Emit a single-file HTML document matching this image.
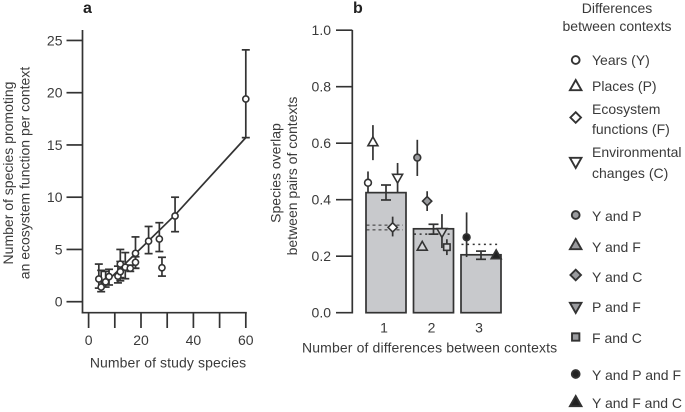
<!DOCTYPE html>
<html lang="en">
<head>
<meta charset="utf-8">
<title>Species overlap chart</title>
<style>
html,body{margin:0;padding:0;background:#fff;width:685px;height:412px;overflow:hidden}
svg{display:block;font-family:"Liberation Sans",sans-serif;fill:#3a3a3a}
text{font-size:14px;stroke:none}
</style>
</head>
<body>
<svg id="chart" width="685" height="412" viewBox="0 0 685 412" xmlns="http://www.w3.org/2000/svg">
  <g id="panel-a"></g>
  <g id="panel-b"></g>
  <g id="legend"></g>
</svg>
<script>
// Panel a data
const studySpecies = [3.9, 4.8, 6.5, 7.8, 11.2, 12.1, 12.1, 14, 15.9, 17.9, 17.9, 22.9, 27, 28, 33, 60];
const speciesPerContext = [2.17, 1.4, 1.9, 2.4, 2.45, 3.6, 2.87, 3.3, 3.2, 3.77, 4.63, 5.8, 6, 3.25, 8.2, 19.4];
const speciesUpper = [3.6, 3.0, 2.9, 3.1, 3.4, 5.0, 3.85, 4.7, 3.5, 4.3, 6.2, 7.2, 7.56, 4.25, 10, 24.1];
const speciesLower = [1.3, 0.96, 1.4, 1.6, 1.8, 2.3, 2.0, 2.2, 2.9, 3.2, 3.2, 4.6, 4.8, 2.45, 6.7, 15.7];
const fitX = [4, 33, 60];
const fitY = [1.2, 8.3, 15.7];
const aXTicks = [0, 10, 20, 30, 40, 50, 60];
const aXLabels = [0, 20, 40, 60];
const aYTicks = [0, 5, 10, 15, 20, 25];

// Panel b data
const barCategories = ['1', '2', '3'];
const barValues = [0.425, 0.297, 0.205];
const barUpper = [0.452, 0.313, 0.218];
const barLower = [0.399, 0.278, 0.189];
const nullExpectationA = [0.31, 0.278, 0.242];
const nullExpectationB = [0.293, null, null];
const bYTicks = [0, 0.2, 0.4, 0.6, 0.8, 1];

const contextNames = ['years', 'places', 'functions', 'changes', 'y-and-p', 'y-and-f', 'y-and-c', 'p-and-f', 'f-and-c', 'y-p-and-f', 'y-f-and-c'];
const contextSlots = [0, 1, 5, 6, 10, 11, 12, 15, 16, 20, 26];
const contextValues = [0.46, 0.604, 0.302, 0.477, 0.549, 0.234, 0.395, 0.285, 0.232, 0.267, 0.204];
const contextUpper = [0.5, 0.664, 0.34, 0.53, 0.612, null, 0.43, 0.349, 0.26, 0.355, null];
const contextLower = [0.425, 0.54, 0.27, 0.425, 0.484, null, 0.36, 0.229, 0.204, 0.197, null];
const contextShapes = ['circle', 'up', 'diamond', 'down', 'circle', 'up', 'diamond', 'down', 'square', 'circle', 'up'];
const contextFills = ['#fff', '#fff', '#fff', '#fff', '#9a9b9e', '#d4d5d8', '#9a9b9e', '#d4d5d8', '#d4d5d8', '#222', '#222'];

// Legend entries
const legendTitle = ['Differences', 'between contexts'];
const legendLabels = [['Years (Y)'], ['Places (P)'], ['Ecosystem', 'functions (F)'], ['Environmental', 'changes (C)'], ['Y and P'], ['Y and F'], ['Y and C'], ['P and F'], ['F and C'], ['Y and P and F'], ['Y and F and C']];
const legendShapes = ['circle', 'up', 'diamond', 'down', 'circle', 'up', 'diamond', 'down', 'square', 'circle', 'up'];
const legendFills = ['#fff', '#fff', '#fff', '#fff', '#9a9b9e', '#9a9b9e', '#9a9b9e', '#9a9b9e', '#9a9b9e', '#222', '#222'];

const NS = 'http://www.w3.org/2000/svg';
const INK = '#333';
const panelA = document.getElementById('panel-a');
const panelB = document.getElementById('panel-b');
const legend = document.getElementById('legend');

const ax = v => 88.6 + v * 2.62;
const ay = v => 301.7 - v * 10.45;
const by = v => 312.7 - v * 282.5;
const barCenter = i => 386 + i * 47.5;
const slotX = s => 368 + s * 4.93;

function mk(parent, tag, name) {
  const el = document.createElementNS(NS, tag);
  
  
  parent.appendChild(el);
  return el;
}
function line(parent, name, x1, y1, x2, y2, w, dash) {
  const l = mk(parent, 'line', name);
  l.setAttribute('x1', x1);
  l.setAttribute('y1', y1);
  l.setAttribute('x2', x2);
  l.setAttribute('y2', y2);
  l.setAttribute('stroke', INK);
  l.setAttribute('stroke-width', w || 1.7);
  if (dash) l.setAttribute('stroke-dasharray', dash);
  return l;
}
function label(parent, name, str, x, y, anchor, rotate) {
  const t = mk(parent, 'text', name);
  t.textContent = str;
  t.setAttribute('x', x);
  t.setAttribute('y', y);
  t.setAttribute('text-anchor', anchor || 'start');
  if (rotate) t.setAttribute('transform', 'rotate(-90 ' + x + ' ' + y + ')');
  return t;
}
function marker(parent, name, shape, x, y, fill, sw, k) {
  const s = k || 1;
  let m;
  if (shape === 'circle') {
    m = mk(parent, 'circle', name);
    m.setAttribute('cx', x);
    m.setAttribute('cy', y);
    m.setAttribute('r', 3.4 * s);
  } else if (shape === 'square') {
    m = mk(parent, 'rect', name);
    m.setAttribute('x', x - 3.2 * s);
    m.setAttribute('y', y - 3.2 * s);
    m.setAttribute('width', 6.4 * s);
    m.setAttribute('height', 6.4 * s);
  } else {
    m = mk(parent, 'polygon', name);
    let pts;
    if (shape === 'up') pts = [[x, y - 5.2 * s], [x + 5 * s, y + 3.6 * s], [x - 5 * s, y + 3.6 * s]];
    else if (shape === 'down') pts = [[x, y + 5.2 * s], [x + 5 * s, y - 3.6 * s], [x - 5 * s, y - 3.6 * s]];
    else pts = [[x, y - 4.6 * s], [x + 4.6 * s, y], [x, y + 4.6 * s], [x - 4.6 * s, y]];
    m.setAttribute('points', pts.map(p => p.join(',')).join(' '));
  }
  m.setAttribute('fill', fill);
  m.setAttribute('stroke', INK);
  m.setAttribute('stroke-width', sw || 1.6);
  return m;
}

// ---- Panel a ----
label(panelA, 'panel-a-label', 'a', 83, 13, 'start').setAttribute('style', 'font-weight:bold;font-size:16px;fill:#222');
line(panelA, 'a-y-axis', 82.5, 30, 82.5, 313.5);
line(panelA, 'a-x-axis', 81.8, 312.7, 246.8, 312.7);
aYTicks.forEach(v => {
  line(panelA, 'a-y-tick', 66.5, ay(v), 82.5, ay(v));
  label(panelA, 'a-y-tick-label', String(v), 62.5, ay(v) + 5, 'end');
});
aXTicks.forEach(v => {
  line(panelA, 'a-x-tick', ax(v), 312.7, ax(v), 328);
});
aXLabels.forEach(v => {
  label(panelA, 'a-x-tick-label', String(v), ax(v), 345, 'middle');
});
label(panelA, 'a-x-axis-title', 'Number of study species', 168, 367.7, 'middle').setAttribute('letter-spacing', '0.1');
label(panelA, 'a-y-axis-title-line-1', 'Number of species promoting', 13, 173, 'middle', true);
label(panelA, 'a-y-axis-title-line-2', 'an ecosystem function per context', 29.3, 173, 'middle', true);

const fit = mk(panelA, 'polyline', 'a-fit-line');
fit.setAttribute('points', fitX.map((v, i) => ax(v) + ',' + ay(fitY[i])).join(' '));
fit.setAttribute('fill', 'none');
fit.setAttribute('stroke', INK);
fit.setAttribute('stroke-width', 1.7);

studySpecies.forEach((v, i) => {
  const x = ax(v);
  line(panelA, 'a-error-bar', x, ay(speciesUpper[i]), x, ay(speciesLower[i]));
  line(panelA, 'a-error-cap-upper', x - 4, ay(speciesUpper[i]), x + 4, ay(speciesUpper[i]));
  line(panelA, 'a-error-cap-lower', x - 4, ay(speciesLower[i]), x + 4, ay(speciesLower[i]));
});
studySpecies.forEach((v, i) => {
  marker(panelA, 'a-point', 'circle', ax(v), ay(speciesPerContext[i]), '#fff', 1.6, 0.9);
});

// ---- Panel b ----
label(panelB, 'panel-b-label', 'b', 353, 13, 'start').setAttribute('style', 'font-weight:bold;font-size:16px;fill:#222');
barCategories.forEach((c, i) => {
  const r = mk(panelB, 'rect', 'bar-' + c);
  r.setAttribute('x', barCenter(i) - 20);
  r.setAttribute('y', by(barValues[i]));
  r.setAttribute('width', 40);
  r.setAttribute('height', by(0) - by(barValues[i]));
  r.setAttribute('fill', '#c8c9cc');
  r.setAttribute('stroke', INK);
  r.setAttribute('stroke-width', 1.7);
  label(panelB, 'b-x-tick-label', c, barCenter(i) - 2, 332.5, 'middle');
});
barCategories.forEach((c, i) => {
  const cx = barCenter(i);
  [nullExpectationA[i], nullExpectationB[i]].forEach(v => {
    if (v !== null) line(panelB, 'null-expectation-line', cx - 19.5, by(v), cx + 17, by(v), i === 0 ? 1 : 1.5, i === 0 ? '3 3' : '2 3.6');
  });
  line(panelB, 'bar-error', cx, by(barUpper[i]), cx, by(barLower[i]));
  line(panelB, 'bar-error-cap-upper', cx - 5, by(barUpper[i]), cx + 5, by(barUpper[i]));
  line(panelB, 'bar-error-cap-lower', cx - 5, by(barLower[i]), cx + 5, by(barLower[i]));
});
line(panelB, 'b-y-axis', 352.3, 30, 352.3, 313.5);
bYTicks.forEach(v => {
  line(panelB, 'b-y-tick', 336, by(v), 352.3, by(v));
  label(panelB, 'b-y-tick-label', v.toFixed(1), 331, by(v) + 5, 'end');
});
label(panelB, 'b-x-axis-title', 'Number of differences between contexts', 302, 352.7, 'start').setAttribute('letter-spacing', '0.13');
label(panelB, 'b-y-axis-title-line-1', 'Species overlap', 280.7, 173, 'middle', true);
label(panelB, 'b-y-axis-title-line-2', 'between pairs of contexts', 297, 176, 'middle', true);

contextValues.forEach((v, i) => {
  const x = slotX(contextSlots[i]);
  if (contextUpper[i] !== null) {
    line(panelB, 'context-error-' + contextNames[i], x, by(contextUpper[i]), x, by(contextLower[i]));
  }
  marker(panelB, 'context-marker-' + contextNames[i], contextShapes[i], x, by(v), contextFills[i]);
});

// ---- Legend ----
legendTitle.forEach((s, i) => {
  label(legend, 'legend-title-line', s, 617, 13 + i * 18, 'middle');
});
const legendMarkerY = [60, 86, 117.5, 162, 215, 245, 275, 307, 337, 374, 402];
const legendTextY = [[65], [91], [114, 134], [157, 178], [221], [252], [282], [312], [343], [380], [408]];
legendLabels.forEach((lines, i) => {
  const row = mk(legend, 'g', 'legend-entry-' + contextNames[i]);
  marker(row, 'legend-marker', legendShapes[i], 575.7, legendMarkerY[i], legendFills[i], 1.9, 1.15);
  lines.forEach((s, j) => {
    label(row, 'legend-label', s, 592, legendTextY[i][j], 'start');
  });
});
</script>
</body>
</html>
